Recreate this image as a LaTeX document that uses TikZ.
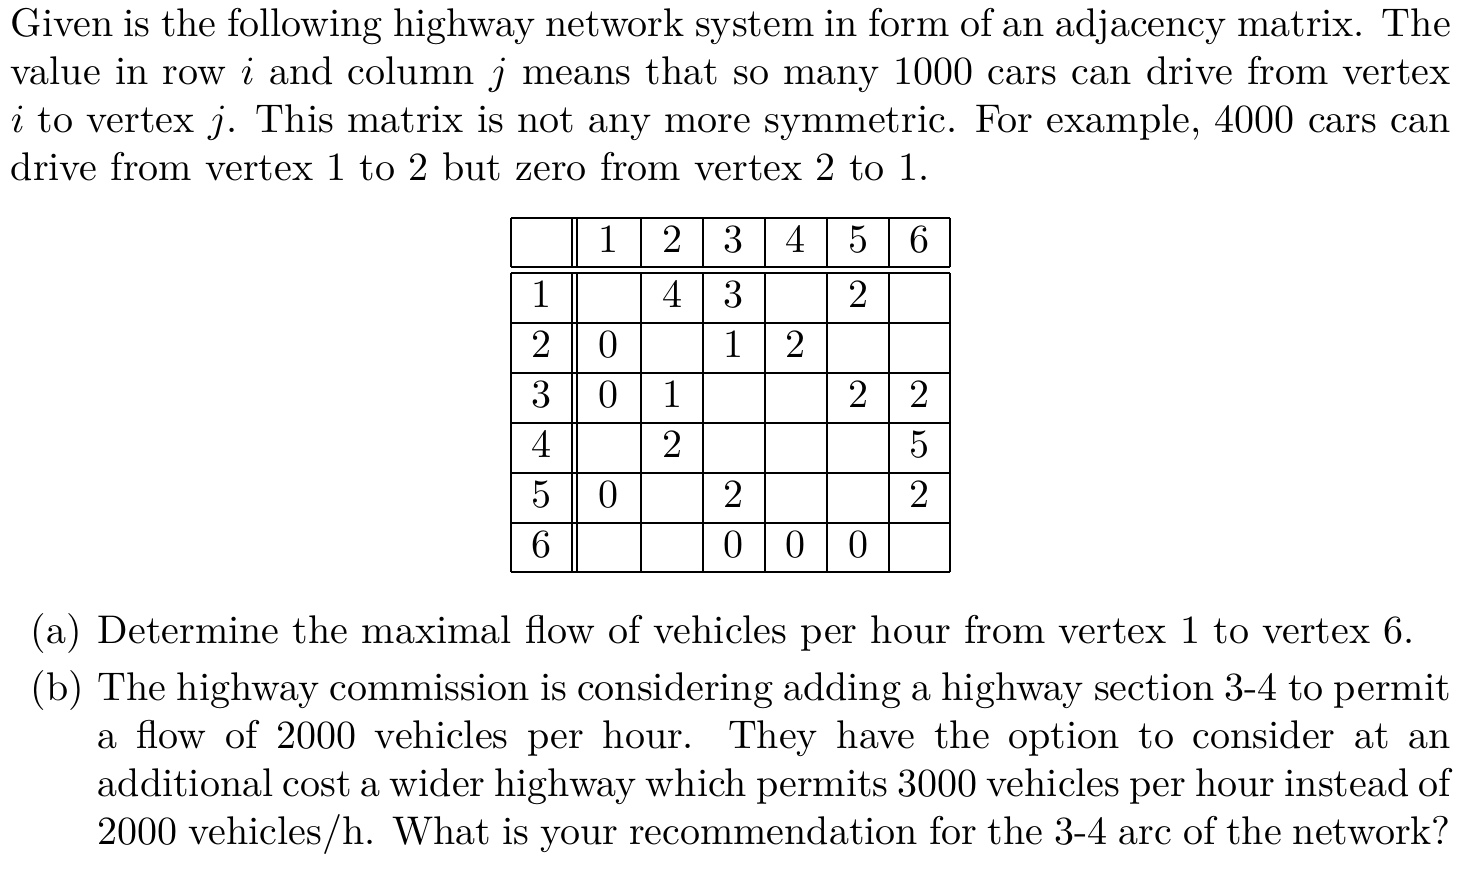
\documentclass[tikz,border=0pt]{standalone}
\begin{document}
\begin{tikzpicture}[x=0.25pt,y=-0.25pt,
  cell/.style={inner sep=0pt, anchor=center},
  par/.style={inner sep=0pt, anchor=north west, align=justify},
  gl/.style={line width=0.4pt}]
\useasboundingbox (0,0) rectangle (1472,880);
\node[par,text width=360pt] (intro) at (10,7) {Given is the following highway network system in form of an adjacency matrix. The value in row $i$ and column $j$ means that so many 1000 cars can drive from vertex $i$ to vertex $j$. This matrix is not any more symmetric. For example, 4000 cars can drive from vertex 1 to 2 but zero from vertex 2 to 1.};
% table grid
\foreach \y in {218,267,273,323,373,423,473,523,572}
  \draw[gl] (511,\y) -- (950,\y);
\foreach \x in {511,572,577,641,703,765,827,889,950}
  {\draw[gl] (\x,218) -- (\x,267); \draw[gl] (\x,273) -- (\x,572);}
% header
\foreach \c/\x in {1/609,2/672,3/734,4/796,5/858,6/919}
  \node[cell] (h\c) at (\x,243) {\strut\c};
\foreach \r/\y in {1/298,2/348,3/398,4/448,5/498,6/548}
  \node[cell] (r\r) at (541,\y) {\strut\r};
% entries
\foreach \c/\r/\v in {2/1/4,3/1/3,5/1/2, 1/2/0,3/2/1,4/2/2, 1/3/0,2/3/1,5/3/2,6/3/2,
  2/4/2,6/4/5, 1/5/0,3/5/2,6/5/2, 3/6/0,4/6/0,5/6/0}
{
  \pgfmathsetmacro{\xx}{(\c==1)*609+(\c==2)*672+(\c==3)*734+(\c==4)*796+(\c==5)*858+(\c==6)*919}
  \pgfmathsetmacro{\yy}{248+50*\r}
  \node[cell] (e\c\r) at (\xx,\yy) {\strut\v};
}
\node[inner sep=0pt,anchor=base west] (la) at (30,643) {(a)};
\node[inner sep=0pt,anchor=base west] (ta) at (97,643) {Determine the maximal flow of vehicles per hour from vertex 1 to vertex 6.};
\node[inner sep=0pt,anchor=base west] (lb) at (30,700) {(b)};
\node[par,text width=338.25pt] (tb) at (97,672) {The highway commission is considering adding a highway section 3-4 to permit a flow of 2000 vehicles per hour. They have the option to consider at an additional cost a wider highway which permits 3000 vehicles per hour instead of 2000 vehicles/h. What is your recommendation for the 3-4 arc of the network?};
\end{tikzpicture}
\end{document}
